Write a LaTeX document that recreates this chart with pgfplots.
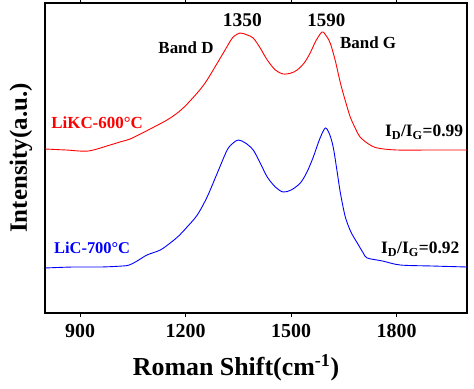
\documentclass[border=0pt]{standalone}
\usepackage{fontspec}
\setmainfont{Liberation Serif}
\usepackage{pgfplots}
\pgfplotsset{compat=1.18}
\begin{document}
\begin{tikzpicture}
\useasboundingbox (0,0) rectangle (474bp,389bp);
\begin{axis}[
  at={(45bp,76bp)}, anchor=south west,
  scale only axis, width=422bp, height=310bp,
  xmin=800, xmax=2000, ymin=-313, ymax=-3,
  xtick={900,1200,1500,1800}, ytick=\empty,
  tick align=outside, major tick length=4bp,
  xtick style={line width=1pt, black},
  axis line style={line width=1.2pt},
  /pgf/number format/assume math mode=true,
  /pgf/number format/set thousands separator={},
  xticklabel style={font=\fontsize{20}{20}\selectfont\bfseries, yshift=-4bp},
  xlabel={Roman Shift(cm\textsuperscript{-1})},
  xlabel style={at={(axis description cs:0.5,0)}, anchor=center, yshift=-55bp, xshift=-20bp, font=\fontsize{26}{26}\selectfont\bfseries},
  ylabel={Intensity(a.u.)},
  ylabel style={at={(axis description cs:0,0.5)}, anchor=center, yshift=24bp, font=\fontsize{25}{25}\selectfont\bfseries},
  clip=true,
]
\addplot[red, line width=0.9pt, smooth] coordinates {
(800,-149) (860,-150) (923,-151) (985,-145) (1013,-142) (1042,-139) (1071,-134) (1099,-129) (1147,-120) (1180,-112) (1207,-103) (1240,-90) (1261,-80) (1285,-66) (1307,-53) (1322,-44) (1335,-37) (1355,-33) (1375,-35) (1392,-38) (1412,-48) (1432,-60) (1455,-70) (1477,-74) (1500,-73) (1517,-70) (1537,-63) (1554,-53) (1570,-41) (1588,-32) (1600,-36) (1611,-43) (1625,-60) (1640,-83) (1655,-102) (1668,-117) (1682,-128) (1696,-137) (1720,-144) (1745,-148) (1800,-150) (1900,-150) (2000,-150)
};
\addplot[blue, line width=0.9pt, smooth] coordinates {
(800,-268) (880,-267) (960,-267) (1020,-266) (1040,-265) (1062,-261) (1090,-255) (1128,-250) (1156,-243) (1180,-236) (1204,-227) (1233,-215) (1261,-197) (1290,-173) (1318,-150) (1335,-143) (1350,-140) (1370,-143) (1392,-150) (1412,-163) (1432,-177) (1455,-187) (1477,-192) (1500,-190) (1526,-183) (1545,-172) (1563,-157) (1580,-140) (1597,-128) (1610,-135) (1620,-148) (1630,-170) (1640,-193) (1654,-217) (1670,-232) (1688,-243) (1705,-253) (1716,-258) (1760,-261) (1810,-265) (1900,-266) (2000,-267)
};
\node[font=\fontsize{19.5}{19.5}\selectfont\bfseries] at (axis cs:1361,-20) {1350};
\node[font=\fontsize{19}{19}\selectfont\bfseries] at (axis cs:1600,-20) {1590};
\node[font=\fontsize{17}{17}\selectfont\bfseries] at (axis cs:1201,-48) {Band D};
\node[font=\fontsize{17}{17}\selectfont\bfseries] at (axis cs:1719,-43) {Band G};
\node[font=\fontsize{17}{17}\selectfont\bfseries, red] at (axis cs:948,-123) {LiKC-600°C};
\node[font=\fontsize{16.5}{16.5}\selectfont\bfseries, blue] at (axis cs:934,-248) {LiC-700°C};
\node[font=\fontsize{17.5}{17.5}\selectfont\bfseries] at (axis cs:1878,-132) {I\textsubscript{D}/I\textsubscript{G}=0.99};
\node[font=\fontsize{17.5}{17.5}\selectfont\bfseries] at (axis cs:1867,-249) {I\textsubscript{D}/I\textsubscript{G}=0.92};
\end{axis}
\end{tikzpicture}
\end{document}
